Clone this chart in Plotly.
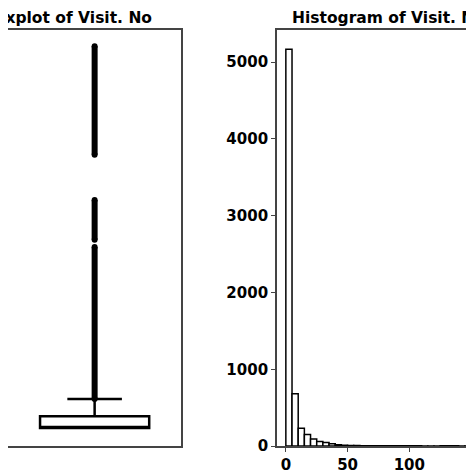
import plotly.graph_objects as go
from plotly.subplots import make_subplots

# Boxplot stats (Visit. No)
box_q1 = 0
box_median = 0.5
box_q3 = 6.5
box_lower = 0
box_upper = 16
outlier_ranges = [(16, 100), (104, 126), (151, 211)]

# Histogram (bin width 5)
bin_starts = [0, 5, 10, 15, 20, 25, 30, 35, 40, 45, 50, 55, 60, 65, 70, 75, 80, 85, 90, 95, 100, 105, 110, 115, 120, 125, 130, 135, 140, 145]
counts = [5170, 680, 230, 150, 90, 60, 45, 30, 15, 10, 6, 5, 4, 4, 3, 3, 2, 2, 3, 2, 3, 2, 1, 1, 1, 2, 2, 2, 1, 1]

W = 466
H = 466
fig = make_subplots(rows=1, cols=2)
fig.add_trace(go.Box(x=[0], q1=[box_q1], median=[box_median], q3=[box_q3],
                     lowerfence=[box_lower], upperfence=[box_upper], boxpoints=False,
                     fillcolor="white", line=dict(color="black", width=2.5),
                     width=0.63, whiskerwidth=0.5, showlegend=False), row=1, col=1)
for lo, hi in outlier_ranges:
    fig.add_trace(go.Scatter(x=[0, 0], y=[lo, hi], mode="lines+markers",
                             line=dict(color="black", width=6),
                             marker=dict(size=6, color="black"), showlegend=False), row=1, col=1)
fig.add_trace(go.Bar(x=[b + 2.5 for b in bin_starts], y=counts, width=5,
                     marker=dict(color="white", line=dict(color="black", width=1.5)),
                     showlegend=False), row=1, col=2)

fig.update_xaxes(domain=[0, 174 / W], range=[-0.5, 0.5], showticklabels=False, ticks="",
                 showline=True, mirror=True, linecolor="#444", linewidth=1.5, showgrid=False,
                 zeroline=False, row=1, col=1)
fig.update_yaxes(range=[-10, 220], showticklabels=False, ticks="", showline=True, mirror=True,
                 linecolor="#444", linewidth=1.5, showgrid=False, zeroline=False, row=1, col=1)
fig.update_xaxes(domain=[270 / W, 1], range=[-7.3, 150.8], tickvals=[0, 50, 100, 150],
                 ticks="outside", ticklen=4, showline=True, mirror=True, linecolor="#444",
                 linewidth=1.5, showgrid=False, zeroline=False, row=1, col=2)
fig.update_yaxes(range=[0, 5420], tickvals=[0, 1000, 2000, 3000, 4000, 5000],
                 ticks="outside", ticklen=4, showline=True, mirror=True, linecolor="#444",
                 linewidth=1.5, showgrid=False, zeroline=False, row=1, col=2)

fig.update_layout(width=W, height=H, margin=dict(l=0, r=0, t=22, b=26),
                  plot_bgcolor="white", paper_bgcolor="white",
                  font=dict(family="DejaVu Sans", size=13, color="black"),
                  annotations=[
                      dict(text="<b>Boxplot of Visit. No</b>", x=60 / W, y=1, xref="paper", yref="paper",
                           xanchor="center", yanchor="bottom", yshift=1, showarrow=False,
                           font=dict(size=15.5)),
                      dict(text="<b>Histogram of Visit. No</b>", x=283 / W, y=1, xref="paper", yref="paper",
                           xanchor="left", yanchor="bottom", yshift=1, showarrow=False,
                           font=dict(size=15.5)),
                  ])
fig.update_xaxes(tickfont=dict(family="DejaVu Sans", size=15, weight="bold"))
fig.update_yaxes(tickfont=dict(family="DejaVu Sans", size=15, weight="bold"))
fig.write_html("out.html")
